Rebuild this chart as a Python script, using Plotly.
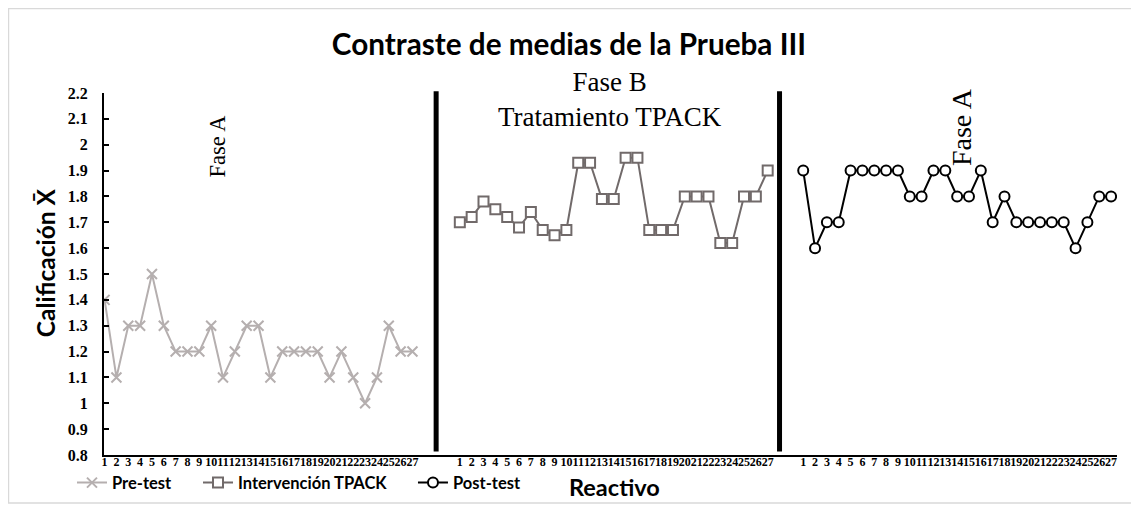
import plotly.graph_objects as go

items = [str(i) for i in range(1, 28)]
pre_test = [1.4, 1.1, 1.3, 1.3, 1.5, 1.3, 1.2, 1.2, 1.2, 1.3, 1.1, 1.2, 1.3, 1.3, 1.1,
            1.2, 1.2, 1.2, 1.2, 1.1, 1.2, 1.1, 1.0, 1.1, 1.3, 1.2, 1.2]
intervencion = [1.70, 1.72, 1.78, 1.75, 1.72, 1.68, 1.74, 1.67, 1.65, 1.67, 1.93, 1.93, 1.79, 1.79,
                1.95, 1.95, 1.67, 1.67, 1.67, 1.80, 1.80, 1.80, 1.62, 1.62, 1.80, 1.80, 1.90]
post_test = [1.9, 1.6, 1.7, 1.7, 1.9, 1.9, 1.9, 1.9, 1.9, 1.8, 1.8, 1.9, 1.9, 1.8, 1.8,
             1.9, 1.7, 1.8, 1.7, 1.7, 1.7, 1.7, 1.7, 1.6, 1.7, 1.8, 1.8]
y_ticks = [0.8, 0.9, 1.0, 1.1, 1.2, 1.3, 1.4, 1.5, 1.6, 1.7, 1.8, 1.9, 2.0, 2.1, 2.2]
y_tick_labels = ["0.8", "0.9", "1", "1.1", "1.2", "1.3", "1.4", "1.5", "1.6", "1.7",
                 "1.8", "1.9", "2", "2.1", "2.2"]

# category slot offsets of each phase on the shared axis
off_pre, off_int, off_post = 0, 30, 59
sep_lines = [28, 57]

x_pre = [off_pre + i for i in range(27)]
x_int = [off_int + i for i in range(27)]
x_post = [off_post + i for i in range(27)]

fig = go.Figure()
fig.add_trace(go.Scatter(
    x=x_pre, y=pre_test, name="Pre-test", mode="lines+markers", legend="legend",
    line=dict(color="#b5afaf", width=2),
    marker=dict(symbol="x-thin", size=10, line=dict(color="#b5afaf", width=2)),
))
fig.add_trace(go.Scatter(
    x=x_int, y=intervencion, name="Intervención TPACK", mode="lines+markers", legend="legend2",
    line=dict(color="#716a6a", width=2),
    marker=dict(symbol="square", size=10, color="white", line=dict(color="#716a6a", width=2)),
))
fig.add_trace(go.Scatter(
    x=x_post, y=post_test, name="Post-test", mode="lines+markers", legend="legend3",
    line=dict(color="black", width=2),
    marker=dict(symbol="circle", size=10, color="white", line=dict(color="black", width=2)),
))

tickvals = x_pre + x_int + x_post
ticktext = items * 3

for xv in sep_lines:
    fig.add_shape(type="line", xref="x", yref="paper", x0=xv, x1=xv, y0=0.01, y1=1.005,
                  line=dict(color="black", width=5))

# outer chart border
fig.add_shape(type="rect", xref="paper", yref="paper", x0=-0.0943, x1=1.0158, y0=-0.1326, y1=1.2334,
              line=dict(color="#d9d9d9", width=1.5), layer="below")

serif = "Liberation Serif"
fig.add_annotation(x=0.1125, y=0.855, xref="paper", yref="paper", text="Fase A", textangle=-90,
                   xanchor="center", yanchor="middle",
                   showarrow=False, font=dict(family=serif, size=22.5, color="black"))
fig.add_annotation(x=0.846, y=0.906, xref="paper", yref="paper", text="Fase A", textangle=-90,
                   xanchor="center", yanchor="middle",
                   showarrow=False, font=dict(family=serif, size=28, color="black"))
fig.add_annotation(x=0.4995, y=0.9807, xref="paper", yref="paper",
                   text="Fase B<br>Tratamiento TPACK", xanchor="center", yanchor="middle",
                   showarrow=False, font=dict(family=serif, size=27, color="black"))
fig.add_annotation(x=0.5044, y=-0.088, xref="paper", yref="paper", text="<b>Reactivo</b>",
                   showarrow=False, xanchor="center", yanchor="middle",
                   font=dict(family="Lato", size=23.5, color="black"))
fig.add_annotation(x=-0.0582, y=0.53, xref="paper", yref="paper", text="<b>Calificación X̄</b>",
                   textangle=-90, showarrow=False, xanchor="center", yanchor="middle",
                   font=dict(family="Lato", size=24.5, color="black"))

leg_common = dict(orientation="h", xanchor="left", y=-0.0287, yanchor="top",
                  font=dict(family="Lato", size=16.5, color="black", weight="bold"),
                  bgcolor="rgba(0,0,0,0)")

fig.update_layout(
    width=1139, height=508,
    margin=dict(l=96, r=30, t=85, b=61, autoexpand=False),
    paper_bgcolor="white", plot_bgcolor="white",
    title=dict(text="<b>Contraste de medias de la Prueba III</b>", x=0.4925, xref="container",
               y=0.927, yanchor="middle",
               font=dict(family="Lato", size=29.7, color="black")),
    xaxis=dict(range=[-0.05, 85.5], tickmode="array", tickvals=tickvals, ticktext=ticktext,
               tickangle=0, showgrid=False, zeroline=False, showline=True, linecolor="black",
               linewidth=2, ticks="", ticklen=0, automargin=False, ticklabelstandoff=-5,
               tickfont=dict(family=serif, size=12, color="black", weight="bold")),
    yaxis=dict(range=[0.8, 2.2], tickmode="array", tickvals=y_ticks, ticktext=y_tick_labels,
               showgrid=False, zeroline=False, showline=True, linecolor="black", linewidth=2,
               ticks="inside", ticklen=5, tickwidth=1.5, tickcolor="black", automargin=False,
               ticklabelstandoff=11,
               tickfont=dict(family=serif, size=16, color="black", weight="bold")),
    legend=dict(x=-0.0316, **leg_common),
    legend2=dict(x=0.0928, **leg_common),
    legend3=dict(x=0.3050, **leg_common),
    showlegend=True,
)

fig.write_html("out.html")
